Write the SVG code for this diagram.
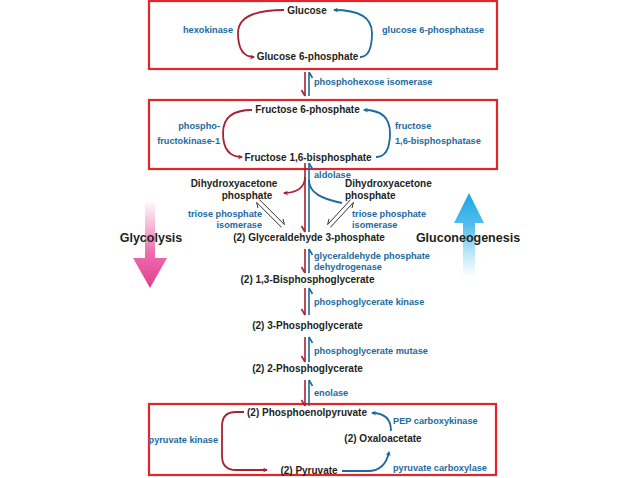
<svg xmlns="http://www.w3.org/2000/svg" width="638" height="478" viewBox="0 0 638 478">
<style>
.box{fill:none;stroke:#e3242b;stroke-width:2.2}
.n{font-family:"Liberation Sans",Arial,sans-serif;font-weight:bold;font-size:10px;fill:#231f20}
.e{font-family:"Liberation Sans",Arial,sans-serif;font-weight:bold;font-size:9.2px;fill:#1d6aa0}
.big{font-family:"Liberation Sans",Arial,sans-serif;font-weight:bold;font-size:12.5px;fill:#231f20}
.r{fill:none;stroke:#a82236;stroke-width:1.8}
.b{fill:none;stroke:#1d6aa0;stroke-width:1.8}
.rv{fill:none;stroke:#a82236;stroke-width:1.6}
.bv{fill:none;stroke:#1d6aa0;stroke-width:1.6}
.k{fill:none;stroke:#333;stroke-width:1}
</style>
<defs>
<marker id="ar" viewBox="0 0 10 10" refX="8" refY="5" markerWidth="5" markerHeight="5" orient="auto" markerUnits="userSpaceOnUse"><path d="M0,0 L10,5 L0,10 L3,5 Z" fill="#a82236"/></marker>
<marker id="ab" viewBox="0 0 10 10" refX="8" refY="5" markerWidth="5" markerHeight="5" orient="auto" markerUnits="userSpaceOnUse"><path d="M0,0 L10,5 L0,10 L3,5 Z" fill="#1d6aa0"/></marker>
<linearGradient id="gp" x1="0" y1="200" x2="0" y2="288" gradientUnits="userSpaceOnUse"><stop offset="0" stop-color="#e8489a" stop-opacity="0"/><stop offset="0.6" stop-color="#e8489a" stop-opacity="0.8"/><stop offset="1" stop-color="#e23d8f"/></linearGradient>
<linearGradient id="gb" x1="0" y1="193" x2="0" y2="278" gradientUnits="userSpaceOnUse"><stop offset="0" stop-color="#17a7e6"/><stop offset="0.4" stop-color="#38b4ea" stop-opacity="0.85"/><stop offset="1" stop-color="#7fd0f3" stop-opacity="0"/></linearGradient>
</defs>
<rect width="638" height="478" fill="#fff"/>

<g id="box-glucose"><rect class="box" x="149" y="1" width="348" height="68"/></g>
<g id="box-fructose"><rect class="box" x="149" y="100" width="348" height="69"/></g>
<g id="box-pyruvate"><rect class="box" x="149" y="404" width="347" height="71"/></g>

<g id="connectors">
<path class="r" d="M284,10 Q238,10 238,33 Q238,57 254,57" marker-end="url(#ar)"/>
<path class="b" d="M360,57 Q372,57 372,33 Q372,10 334,10" marker-end="url(#ab)"/>
<path class="r" d="M252,110 Q223,110 223,133 Q223,157 242,157" marker-end="url(#ar)"/>
<path class="b" d="M376,157 Q390,157 390,133 Q390,110 364,110" marker-end="url(#ab)"/>
<path class="r" d="M244,412 L236,412 Q222,412 222,426 L222,456 Q222,470 236,470 L267,470" marker-end="url(#ar)"/>
<path class="b" d="M342,471 L368,471 Q385,471 389,452" marker-end="url(#ab)"/>
<path class="b" d="M391,431 Q391,413 372,413" marker-end="url(#ab)"/>
<!-- vertical harpoon pairs -->
<path class="rv" d="M305,72 V96 M305,96 L301.5,90"/>
<path class="bv" d="M309,72 V96 M309,72 L312.5,78"/>
<path class="rv" d="M305,163 V232 M305,232 L301.5,226"/>
<path class="bv" d="M309,163 V232 M309,163 L312.5,169"/>
<path class="r" d="M305,177 C305,188 296,193 284,193" marker-end="url(#ar)"/>
<path class="b" d="M309,180 C309,193 322,199 342,203"/>
<path class="rv" d="M305,249 V273 M305,273 L301.5,267"/>
<path class="bv" d="M309,249 V273 M309,249 L312.5,255"/>
<path class="rv" d="M305,288 V315 M305,315 L301.5,309"/>
<path class="bv" d="M309,288 V315 M309,288 L312.5,294"/>
<path class="rv" d="M305,337 V362 M305,362 L301.5,356"/>
<path class="bv" d="M309,337 V362 M309,337 L312.5,343"/>
<path class="rv" d="M305,380 V406 M305,406 L301.5,400"/>
<path class="bv" d="M309,380 V406 M309,380 L312.5,386"/>
<!-- triose phosphate isomerase -->
<path class="k" d="M259.4,199.6 L284.4,224.6 L283,219"/>
<path class="k" d="M256.6,202.4 L281.6,227.4 M256.6,202.4 L258,208"/>
<path class="k" d="M350.6,199.6 L327.6,224.6 L329,219"/>
<path class="k" d="M353.4,202.4 L330.4,227.4 M353.4,202.4 L352,208"/>
</g>

<g id="glycolysis-arrow"><path d="M145,200 H155 V258 H167 L150,288 L133,258 H145 Z" fill="url(#gp)"/></g>
<g id="gluconeogenesis-arrow"><path d="M469,193 L484,223 H475 V278 H463 V223 H454 Z" fill="url(#gb)"/></g>

<g id="n-glucose"><text class="n" x="307" y="14" text-anchor="middle" font-size="10.8">Glucose</text></g>
<g id="e-hexokinase"><text class="e" x="233" y="33" text-anchor="end">hexokinase</text></g>
<g id="e-g6pase"><text class="e" x="382" y="33">glucose 6-phosphatase</text></g>
<g id="n-g6p"><text class="n" x="307.5" y="60" text-anchor="middle">Glucose 6-phosphate</text></g>
<g id="e-phi"><text class="e" x="314" y="85">phosphohexose isomerase</text></g>
<g id="n-f6p"><text class="n" x="307.5" y="113" text-anchor="middle">Fructose 6-phosphate</text></g>
<g id="e-pfk"><text class="e" x="220" y="129" text-anchor="end">phospho-</text><text class="e" x="220" y="144" text-anchor="end">fructokinase-1</text></g>
<g id="e-fbpase"><text class="e" x="395" y="129">fructose</text><text class="e" x="395" y="144">1,6-bisphosphatase</text></g>
<g id="n-f16bp"><text class="n" x="308" y="161" text-anchor="middle">Fructose 1,6-bisphosphate</text></g>
<g id="e-aldolase"><text class="e" x="314" y="178">aldolase</text></g>
<g id="n-dhap-left"><text class="n" x="234" y="187" text-anchor="middle">Dihydroxyacetone</text><text class="n" x="247" y="199" text-anchor="middle">phosphate</text></g>
<g id="n-dhap-right"><text class="n" x="345" y="187">Dihydroxyacetone</text><text class="n" x="345" y="199">phosphate</text></g>
<g id="e-tpi-left"><text class="e" x="262" y="217" text-anchor="end">triose phosphate</text><text class="e" x="262" y="228" text-anchor="end">isomerase</text></g>
<g id="e-tpi-right"><text class="e" x="352" y="217">triose phosphate</text><text class="e" x="352" y="228">isomerase</text></g>
<g id="n-gap"><text class="n" x="309" y="241" text-anchor="middle">(2) Glyceraldehyde 3-phosphate</text></g>
<g id="l-glycolysis"><text class="big" x="151" y="242" text-anchor="middle">Glycolysis</text></g>
<g id="l-gluconeogenesis"><text class="big" x="468" y="242" text-anchor="middle">Gluconeogenesis</text></g>
<g id="e-gapdh"><text class="e" x="314" y="259">glyceraldehyde phosphate</text><text class="e" x="314" y="270">dehydrogenase</text></g>
<g id="n-13bpg"><text class="n" x="307.5" y="283" text-anchor="middle">(2) 1,3-Bisphosphoglycerate</text></g>
<g id="e-pgk"><text class="e" x="314" y="305">phosphoglycerate kinase</text></g>
<g id="n-3pg"><text class="n" x="307.5" y="329" text-anchor="middle">(2) 3-Phosphoglycerate</text></g>
<g id="e-pgm"><text class="e" x="314" y="354">phosphoglycerate mutase</text></g>
<g id="n-2pg"><text class="n" x="307.5" y="372" text-anchor="middle">(2) 2-Phosphoglycerate</text></g>
<g id="e-enolase"><text class="e" x="314" y="396">enolase</text></g>
<g id="n-pep"><text class="n" x="307" y="416" text-anchor="middle">(2) Phosphoenolpyruvate</text></g>
<g id="e-pepck"><text class="e" x="393" y="424">PEP carboxykinase</text></g>
<g id="e-pk"><text class="e" x="218" y="443" text-anchor="end">pyruvate kinase</text></g>
<g id="n-oaa"><text class="n" x="383" y="442" text-anchor="middle">(2) Oxaloacetate</text></g>
<g id="e-pc"><text class="e" x="393" y="471">pyruvate carboxylase</text></g>
<g id="n-pyruvate"><text class="n" x="309" y="474" text-anchor="middle">(2) Pyruvate</text></g>
</svg>
